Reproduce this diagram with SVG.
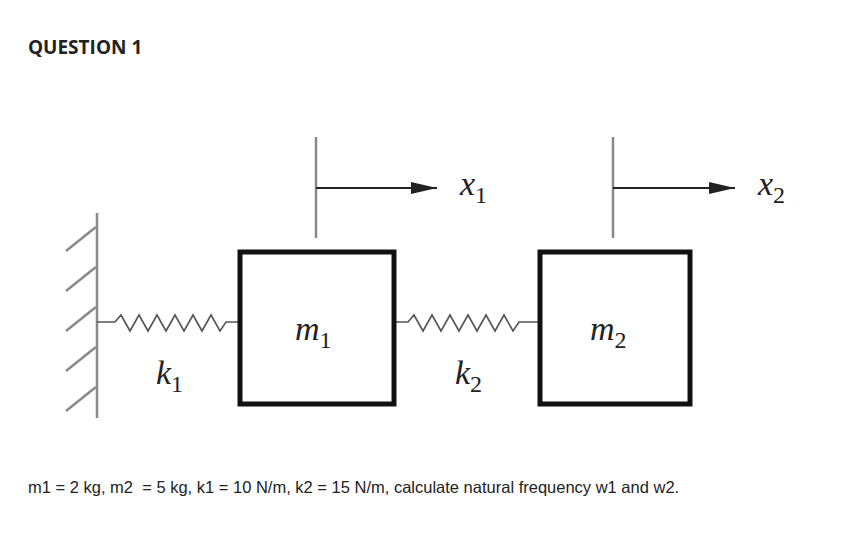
<svg xmlns="http://www.w3.org/2000/svg" width="867" height="552" viewBox="0 0 867 552">
<style>
.g{stroke:#8a8a8a;stroke-width:2.5;fill:none}
.s{stroke:#555;stroke-width:1.6;fill:none}
.box{stroke:#111;stroke-width:5;fill:#fff}
.ar{stroke:#222;stroke-width:2;fill:none}
.m{font-family:"Liberation Serif",serif;font-style:italic;font-size:34px;fill:#222}
.sub{font-family:"Liberation Serif",serif;font-style:normal;font-size:24px;fill:#222}
</style>
<defs>
<marker id="ah2" markerWidth="26" markerHeight="12" refX="26" refY="6" orient="auto" markerUnits="userSpaceOnUse"><path d="M0,0 L26,6 L0,12 z" fill="#222"/></marker></defs>
<rect width="867" height="552" fill="#fff"/>
<text x="28" y="54" font-family="Open Sans,Liberation Sans,sans-serif" font-weight="bold" font-size="19" fill="#222">QUESTION 1</text>
<g id="wall">
<line class="g" x1="97" y1="213" x2="97" y2="418"/>
<path class="g" d="M96,227 L66,251 M96,267 L66,291 M96,307 L66,331 M96,347 L66,371 M96,387 L66,411"/>
</g>
<g id="connectors">
<path class="s" d="M97,322 L115,322 L121,315 L130,331 L139,315 L148,331 L157,315 L166,331 L175,315 L184,331 L193,315 L202,331 L211,315 L220,331 L226,322 L238,322"/>
<path class="s" d="M396,322 L408,322 L414,315 L423,331 L432,315 L441,331 L450,315 L459,331 L468,315 L477,331 L486,315 L495,331 L504,315 L513,331 L519,322 L538,322"/>
<line class="g" x1="316" y1="137" x2="316" y2="238"/>
<line class="ar" x1="316" y1="188" x2="437" y2="188" marker-end="url(#ah2)"/>
<line class="g" x1="613" y1="137" x2="613" y2="238"/>
<line class="ar" x1="613" y1="188" x2="735" y2="188" marker-end="url(#ah2)"/>
</g>
<g id="m1"><rect class="box" x="240" y="252" width="154" height="152"/>
<text class="m" x="295" y="340">m<tspan class="sub" dy="8">1</tspan></text></g>
<g id="m2"><rect class="box" x="540" y="252" width="150" height="152"/>
<text class="m" x="590" y="340">m<tspan class="sub" dy="8">2</tspan></text></g>
<text class="m" x="156" y="384">k<tspan class="sub" dy="8">1</tspan></text>
<text class="m" x="455" y="384">k<tspan class="sub" dy="8">2</tspan></text>
<text class="m" x="460" y="195">x<tspan class="sub" dy="8">1</tspan></text>
<text class="m" x="758" y="195">x<tspan class="sub" dy="8">2</tspan></text>
<text x="28" y="493" font-family="Liberation Sans,Arial,sans-serif" font-size="16.5" fill="#222" xml:space="preserve">m1 = 2 kg, m2  = 5 kg, k1 = 10 N/m, k2 = 15 N/m, calculate natural frequency w1 and w2.</text>
</svg>
